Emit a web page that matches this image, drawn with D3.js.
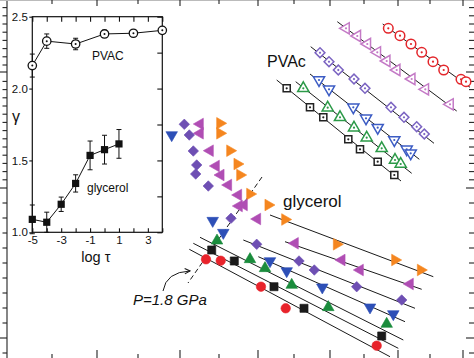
<!DOCTYPE html>
<html><head><meta charset="utf-8">
<script src="https://cdn.jsdelivr.net/npm/d3@7"></script>
<style>
body{margin:0;background:#fff}
svg{display:block}
text{font-family:"Liberation Sans",Arial,Helvetica,sans-serif;fill:#111}
</style>
</head><body>
<svg id="c" width="474" height="358"></svg>
<script>
// ---------------- main panel data (chart units) ----------------
// PVAc isochrones (open symbols)
const pvacCircle   = [[38.83,32.97],[40.0,32.23],[41.1,31.4],[42.17,30.57],[43.3,29.63],[44.37,28.8],[46.1,27.87],[46.6,27.63]];
const pvacTriLeft  = [[34.6,32.97],[35.73,32.2],[36.73,31.4],[37.73,30.57],[38.67,29.7],[39.67,28.8],[41.17,27.9],[42.53,26.87],[45.0,25.37]];
const pvacDiamond  = [[32.0,30.53],[32.9,29.63],[33.83,28.8],[35.4,27.9],[36.5,26.97],[39.1,25.07],[40.4,24.07],[41.67,23.13],[42.43,22.4]];
const pvacTriDown  = [[31.9,27.8],[32.9,26.87],[35.33,25.07],[36.6,23.97],[37.77,23.03],[39.43,21.8],[40.67,20.87],[41.07,20.47]];
const pvacTriUp    = [[30.33,26.97],[32.77,25.03],[34.0,24.07],[35.4,23.03],[36.67,22.03],[38.17,20.97],[39.5,19.8],[40.07,19.4]];
const pvacSquare   = [[28.67,26.97],[31.0,25.07],[32.33,24.07],[34.83,21.87],[36.0,20.87],[37.77,19.63],[39.43,18.3]];
// PVAc fit lines [start, end]
const pvacCircleFit  = [[38.27,33.4],[47.0,27.07]];
const pvacTriLeftFit = [[33.73,33.63],[45.67,24.7]];
const pvacDiamondFit = [[31.07,31.13],[43.4,21.47]];
const pvacTriDownFit = [[31.0,28.4],[41.93,19.87]];
const pvacTriUpFit   = [[29.57,27.63],[41.17,18.47]];
const pvacSquareFit  = [[27.67,27.8],[40.1,17.7]];

// glycerol isochrones (filled symbols)
const glyDiamond  = [[18.43,23.37],[18.93,22.3],[19.33,20.7],[19.67,19.3],[19.57,18.4],[20.83,17.2],[23.1,13.97],[25.67,11.37],[29.9,9.7],[31.43,8.8],[35.67,7.13],[40.17,5.8]];
const glyTriLeft  = [[20.0,23.4],[20.0,22.47],[21.0,20.73],[21.6,19.2],[22.07,18.3],[22.83,17.3],[23.83,16.3],[23.9,15.2],[24.4,15.3],[25.73,13.9],[29.5,11.47],[34.17,9.8],[36.0,8.8],[41.0,7.4]];
const glyTriRight = [[22.0,23.47],[22.0,22.47],[23.0,20.73],[23.73,19.4],[24.0,18.3],[25.0,16.4],[26.83,15.3],[28.5,13.85],[33.67,11.37],[39.5,9.8],[42.07,8.8]];
const glyTriDown  = [[17.17,22.3],[21.27,13.73],[22.33,12.53],[27.0,9.7],[28.67,8.7],[32.23,7.07],[37.0,5.07],[39.33,4.4]];
const glyTriUp    = [[21.7,11.73],[25.0,9.87],[26.5,8.97],[29.17,7.3],[32.83,5.07],[38.67,3.4]];
const glySquare   = [[21.17,10.8],[23.43,9.7],[27.4,7.13],[30.4,4.97],[38.17,2.2]];
const glyCircle   = [[20.6,9.87],[22.07,9.73],[26.1,7.13],[28.57,4.97],[37.67,1.23]];
// glycerol fit lines
const glyTriRightFit = [[27.0,14.3],[43.33,8.13]];
const glyTriLeftFit  = [[28.5,11.63],[42.17,6.87]];
const glyDiamondFit  = [[24.33,11.8],[41.5,4.97]];
const glyTriDownFit  = [[25.83,10.13],[40.5,3.63]];
const glyTriUpFit    = [[20.0,12.07],[40.33,1.8]];
const glySquareFit   = [[19.33,11.47],[39.83,0.97]];
const glyCircleFit   = [[18.93,10.87],[39.0,0.13]];
// P = 1.8 GPa isobar (dashed) and annotation
const isobar = [[26.2,18.1],[18.8,7.5]];
const arrowPts = [[16.3,6.7],[16.6,8.6],[19.0,8.7]];
const labelP = [13.3,5.3];
const labelGly = [28.3,15.1];
const labelPvac = [26.7,29.1];

// frame ticks (chart units)
const topTicks   = [5.2,9.7,13.8,18.0,21.9,25.8,29.4,33.0,36.4,39.8,43.0,46.3];
const topMajor   = [9.7,18.0,25.8,33.0,39.8,46.3];
const sideTicks  = [0.5,2.0,3.5,5.0,6.5,8.0,9.5,11.0,12.5,14.0,15.5,17.0,17.82,18.64,19.46,20.28,21.1,21.92,22.74,23.56,24.38,25.2,26.02,26.84,27.66,28.6,29.3,30.12,30.94,31.76,32.58,33.4,34.22,35.04];
const sideMajor  = [2.0,17.0,28.6];
const frameLeft  = 0.7;

// ---------------- inset data ----------------
const tauTicks   = [-5,-4,-3,-2,-1,0,1,2,3,4];
const gammaTicks = [1.0,1.5,2.0,2.5];
const gammaMinor = [1.0,1.25,1.5,1.75,2.0,2.25,2.5];
const pvacTau    = [-5,-4,-2,0,2,4];
const pvacGamma  = [2.16,2.33,2.31,2.38,2.385,2.405];
const pvacErr    = [0.08,0.05,0.04,0.025,0.02,0.02];
const glyTau     = [-5,-4,-3,-2,-1,0,1];
const glyGamma   = [1.09,1.07,1.195,1.34,1.535,1.575,1.615];
const glyErr     = [0.1,0.07,0.05,0.06,0.1,0.1,0.1];

// ---------------- drawing ----------------
const W = 474, H = 358;
const svg = d3.select('#c');
svg.append('rect').attr('width',W).attr('height',H).attr('fill','#fff');
const x = d3.scaleLinear().domain([0,47.4]).range([0,W]);
const y = d3.scaleLinear().domain([0,35.8]).range([H,0]);

// frame
const fr = svg.append('g').attr('stroke','#222').attr('stroke-width',1.1);
fr.append('line').attr('x1',x(frameLeft)).attr('x2',x(frameLeft)).attr('y1',0).attr('y2',H);
fr.append('line').attr('x1',0).attr('x2',W).attr('y1',0.5).attr('y2',0.5).attr('stroke','#bbb');
fr.selectAll('.tt').data(topTicks).join('line')
  .attr('x1',d=>x(d)).attr('x2',d=>x(d)).attr('y1',0).attr('y2',d=>topMajor.includes(d)?6:4);
fr.selectAll('.bt').data(topTicks).join('line')
  .attr('x1',d=>x(d)).attr('x2',d=>x(d)).attr('y1',H).attr('y2',d=>H-(topMajor.includes(d)?8:4));
fr.selectAll('.lt').data(sideTicks).join('line')
  .attr('y1',d=>y(d)).attr('y2',d=>y(d)).attr('x1',x(frameLeft)).attr('x2',d=>x(frameLeft)-(sideMajor.includes(d)?7:4.5));
fr.selectAll('.rt').data(sideTicks).join('line')
  .attr('y1',d=>y(d)).attr('y2',d=>y(d)).attr('x1',W).attr('x2',d=>W-(sideMajor.includes(d)?8:5));

// fit lines
const fits = [pvacCircleFit,pvacTriLeftFit,pvacDiamondFit,pvacTriDownFit,pvacTriUpFit,pvacSquareFit,
              glyTriRightFit,glyTriLeftFit,glyDiamondFit,glyTriDownFit,glyTriUpFit,glySquareFit,glyCircleFit];
svg.append('g').selectAll('line').data(fits).join('line')
  .attr('x1',d=>x(d[0][0])).attr('y1',d=>y(d[0][1])).attr('x2',d=>x(d[1][0])).attr('y2',d=>y(d[1][1]))
  .attr('stroke','#1a1a1a').attr('stroke-width',1);
svg.append('line').attr('x1',x(isobar[0][0])).attr('y1',y(isobar[0][1])).attr('x2',x(isobar[1][0])).attr('y2',y(isobar[1][1]))
  .attr('stroke','#1a1a1a').attr('stroke-width',1).attr('stroke-dasharray','5,3');

// symbols
function sym(data, type, rot, size, color, open) {
  const g = svg.append('g');
  const p = d3.symbol().type(type).size(size)();
  const s = g.selectAll('g').data(data).join('g')
    .attr('transform',d=>`translate(${x(d[0])},${y(d[1])}) rotate(${rot})`);
  s.append('path').attr('d',p)
    .attr('fill',open?'#fff':color)
    .attr('stroke',color).attr('stroke-width',open?1.5:0.6).attr('stroke-linejoin','miter');
  if (open) s.append('circle').attr('r',1.1).attr('fill',color);
}
const T = d3.symbolTriangle, S = d3.symbolSquare, C = d3.symbolCircle;
// PVAc
sym(pvacCircle, C, 0, 72, '#e3262b', true);
sym(pvacTriLeft, T, -90, 54, '#c47ac6', true);
sym(pvacDiamond, S, 45, 48, '#7b64c2', true);
sym(pvacTriDown, T, 180, 54, '#3c5cc4', true);
sym(pvacTriUp, T, 0, 54, '#2c9a48', true);
sym(pvacSquare, S, 0, 50, '#222', true);
// glycerol
sym(glyTriRight, T, 90, 58, '#f5861f', false);
sym(glyTriLeft, T, -90, 58, '#b04eb4', false);
sym(glyDiamond, S, 45, 55, '#6e4fb3', false);
sym(glyTriDown, T, 180, 58, '#2d4fb7', false);
sym(glyTriUp, T, 0, 58, '#1a8c3c', false);
sym(glySquare, S, 0, 66, '#1a1a1a', false);
sym(glyCircle, C, 0, 70, '#e8232b', false);

// annotations
svg.append('defs').append('marker').attr('id','ah').attr('viewBox','0 0 8 8')
  .attr('refX',7).attr('refY',4).attr('markerWidth',7).attr('markerHeight',7).attr('orient','auto')
  .append('path').attr('d','M1,1 L7,4 L1,7').attr('fill','none').attr('stroke','#1a1a1a').attr('stroke-width',1.2);
svg.append('path')
  .attr('d',`M${x(arrowPts[0][0])},${y(arrowPts[0][1])} Q${x(arrowPts[1][0])},${y(arrowPts[1][1])} ${x(arrowPts[2][0])},${y(arrowPts[2][1])}`)
  .attr('fill','none').attr('stroke','#1a1a1a').attr('stroke-width',1).attr('marker-end','url(#ah)');
svg.append('text').attr('x',x(labelP[0])).attr('y',y(labelP[1])).attr('font-size',15).attr('font-style','italic').text('P=1.8 GPa');
svg.append('text').attr('x',x(labelGly[0])).attr('y',y(labelGly[1])).attr('font-size',17).text('glycerol');
svg.append('text').attr('x',x(labelPvac[0])).attr('y',y(labelPvac[1])).attr('font-size',16).text('PVAc');

// ---------------- inset ----------------
const ix = d3.scaleLinear().domain([-5,4]).range([32.3,162.3]);
const iy = d3.scaleLinear().domain([1.0,2.5]).range([232.3,16.7]);
const ins = svg.append('g');
ins.append('rect').attr('x',ix(-5)).attr('y',iy(2.5)).attr('width',ix(4)-ix(-5)).attr('height',iy(1.0)-iy(2.5))
  .attr('fill','#fff').attr('stroke','#111').attr('stroke-width',1.2);
// axes
const axL = ins.append('g').attr('transform',`translate(${ix(-5)},0)`)
  .call(d3.axisLeft(iy).tickValues(gammaTicks).tickSize(3).tickPadding(1.5).tickFormat(d3.format('.1f')));
const axR = ins.append('g').attr('transform',`translate(${ix(4)},0)`)
  .call(d3.axisLeft(iy).tickValues(gammaMinor).tickSize(5).tickFormat(''));
const axT = ins.append('g').attr('transform',`translate(0,${iy(2.5)})`)
  .call(d3.axisBottom(ix).tickValues(tauTicks).tickSize(5).tickFormat(''));
const axB = ins.append('g').attr('transform',`translate(0,${iy(1.0)})`)
  .call(d3.axisBottom(ix).tickValues(tauTicks).tickSizeInner(-4).tickSizeOuter(0).tickPadding(4)
        .tickFormat(d => (d % 2) ? String(d) : ''));
[axL,axR,axT,axB].forEach(a => {
  a.select('.domain').remove();
  a.selectAll('line').attr('stroke','#111').attr('stroke-width',1.1);
  a.selectAll('text').attr('font-size',11.5).attr('font-family','"Liberation Sans",Arial,sans-serif').attr('fill','#111');
});
ins.append('text').attr('x',16).attr('y',iy(1.77)).attr('text-anchor','middle').attr('font-size',16).text('γ');
ins.append('text').attr('x',ix(-0.6)).attr('y',262).attr('text-anchor','middle').attr('font-size',14.5).text('log τ');

// inset series
const pv = pvacTau.map((t,i)=>({t, g:pvacGamma[i], e:pvacErr[i]}));
const gl = glyTau.map((t,i)=>({t, g:glyGamma[i], e:glyErr[i]}));
const ln = d3.line().x(d=>ix(d.t)).y(d=>iy(d.g));
[pv,gl].forEach(ser=>{
  ins.append('path').attr('d',ln(ser)).attr('fill','none').attr('stroke','#111').attr('stroke-width',1);
  const eb = ins.append('g').attr('stroke','#111').attr('stroke-width',1);
  eb.selectAll('.v').data(ser).join('line').attr('x1',d=>ix(d.t)).attr('x2',d=>ix(d.t)).attr('y1',d=>iy(d.g-d.e)).attr('y2',d=>iy(d.g+d.e));
  eb.selectAll('.c1').data(ser).join('line').attr('x1',d=>ix(d.t)-2.5).attr('x2',d=>ix(d.t)+2.5).attr('y1',d=>iy(d.g+d.e)).attr('y2',d=>iy(d.g+d.e));
  eb.selectAll('.c2').data(ser).join('line').attr('x1',d=>ix(d.t)-2.5).attr('x2',d=>ix(d.t)+2.5).attr('y1',d=>iy(d.g-d.e)).attr('y2',d=>iy(d.g-d.e));
});
const pvg = ins.selectAll('.pvm').data(pv).join('g').attr('transform',d=>`translate(${ix(d.t)},${iy(d.g)})`);
pvg.append('circle').attr('r',4.2).attr('fill','#fff').attr('stroke','#111').attr('stroke-width',1.3);
pvg.append('circle').attr('r',1).attr('fill','#111');
ins.selectAll('.glm').data(gl).join('rect')
  .attr('x',d=>ix(d.t)-3.6).attr('y',d=>iy(d.g)-3.6).attr('width',7.2).attr('height',7.2).attr('fill','#111');
ins.append('text').attr('x',ix(-0.87)).attr('y',iy(2.2)).attr('font-size',12).text('PVAC');
ins.append('text').attr('x',ix(-1.21)).attr('y',iy(1.28)).attr('font-size',12).text('glycerol');
</script>
</body></html>
